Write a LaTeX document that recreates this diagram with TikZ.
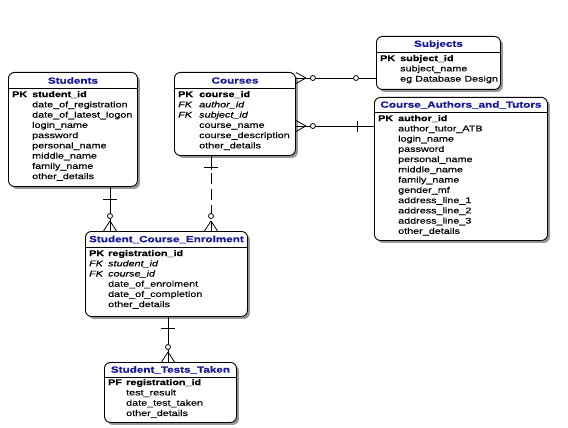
\documentclass[tikz,border=0pt]{standalone}
\usepackage{fontspec}
\newfontfamily\erfont[FakeStretch=1.3, UprightFeatures={FakeBold=0.3}, ItalicFeatures={FakeBold=0.3}, BoldFeatures={FakeBold=0.6}]{Liberation Sans}
\usetikzlibrary{shadows,calc}
\definecolor{ttl}{RGB}{25,25,150}
\definecolor{shd}{RGB}{150,150,150}
\newcommand\fieldrows[4]{%
  \foreach \t [count=\i] in {#4}
    \node[fld] (#1-\i) at (#2, {#3+(\i-1)*10.25}) {\t};}
\begin{document}
\begin{tikzpicture}[x=1pt,y=-1pt,
  tbl/.style={draw, line width=0.9pt, rounded corners=6pt, fill=white,
    drop shadow={shadow xshift=2.5pt, shadow yshift=-2.5pt, fill=shd, opacity=1},
    inner sep=0, anchor=north west},
  sepline/.style={line width=0.9pt},
  ttlnode/.style={font=\erfont\fontsize{9}{10}\selectfont\bfseries, text=ttl, inner sep=0},
  fld/.style={font=\erfont\fontsize{8.3}{10}\selectfont, anchor=west, inner sep=0,
    text height=6pt, text depth=1.8pt},
  conn/.style={line width=0.8pt},
  ring/.style={conn, fill=white},
  dashconn/.style={conn, dash pattern=on 11pt off 5pt}]
\useasboundingbox (0,0) rectangle (568,428);

% ---------- Students ----------
\node[tbl, minimum width=129pt, minimum height=114pt] (stu) at (8,72) {};
\draw[sepline] ($(stu.north west)+(0,16)$) -- ($(stu.north east)+(0,16)$);
\node[ttlnode] (stu-t) at ($(stu.north)+(0,8.5)$) {Students};
\node[fld] (stu-k) at (12,95) {\textbf{PK}};
\fieldrows{stu}{32}{95}{\textbf{student\_id},date\_of\_registration,date\_of\_latest\_logon,login\_name,password,personal\_name,middle\_name,family\_name,other\_details}

% ---------- Courses ----------
\node[tbl, minimum width=121pt, minimum height=83pt] (crs) at (174,72) {};
\draw[sepline] ($(crs.north west)+(0,16)$) -- ($(crs.north east)+(0,16)$);
\node[ttlnode] (crs-t) at ($(crs.north)+(0,8.5)$) {Courses};
\node[fld] (crs-k1) at (178,95) {\textbf{PK}};
\node[fld] (crs-k2) at (178,105.25) {\textit{FK}};
\node[fld] (crs-k3) at (178,115.5) {\textit{FK}};
\fieldrows{crs}{199}{95}{\textbf{course\_id},\textit{author\_id},\textit{subject\_id},course\_name,course\_description,other\_details}

% ---------- Subjects ----------
\node[tbl, minimum width=124pt, minimum height=53pt] (sub) at (376,36) {};
\draw[sepline] ($(sub.north west)+(0,16)$) -- ($(sub.north east)+(0,16)$);
\node[ttlnode] (sub-t) at ($(sub.north)+(0,8.5)$) {Subjects};
\node[fld] (sub-k) at (380,59) {\textbf{PK}};
\fieldrows{sub}{400}{59}{\textbf{subject\_id},subject\_name,eg Database Design}

% ---------- Course_Authors_and_Tutors ----------
\node[tbl, minimum width=173pt, minimum height=143pt] (aut) at (374,97) {};
\draw[sepline] ($(aut.north west)+(0,15.5)$) -- ($(aut.north east)+(0,15.5)$);
\node[ttlnode] (aut-t) at ($(aut.north)+(0,8)$) {Course\_Authors\_and\_Tutors};
\node[fld] (aut-k) at (378,119) {\textbf{PK}};
\fieldrows{aut}{398}{119}{\textbf{author\_id},author\_tutor\_ATB,login\_name,password,personal\_name,middle\_name,family\_name,gender\_mf,address\_line\_1,address\_line\_2,address\_line\_3,other\_details}

% ---------- Student_Course_Enrolment ----------
\node[tbl, minimum width=162pt, minimum height=85pt] (enr) at (85,231) {};
\draw[sepline] ($(enr.north west)+(0,16)$) -- ($(enr.north east)+(0,16)$);
\node[ttlnode] (enr-t) at ($(enr.north)+(0,8.5)$) {Student\_Course\_Enrolment};
\node[fld] (enr-k1) at (89,254) {\textbf{PK}};
\node[fld] (enr-k2) at (89,264.2) {\textit{FK}};
\node[fld] (enr-k3) at (89,274.4) {\textit{FK}};
\foreach \t [count=\i] in {\textbf{registration\_id},\textit{student\_id},\textit{course\_id},date\_of\_enrolment,date\_of\_completion,other\_details}
  \node[fld] (enr-\i) at (108, {254+(\i-1)*10.2}) {\t};

% ---------- Student_Tests_Taken ----------
\node[tbl, minimum width=132pt, minimum height=60pt] (tst) at (104,362) {};
\draw[sepline] ($(tst.north west)+(0,15.5)$) -- ($(tst.north east)+(0,15.5)$);
\node[ttlnode] (tst-t) at ($(tst.north)+(0,8)$) {Student\_Tests\_Taken};
\node[fld] (tst-k) at (108,383) {\textbf{PF}};
\foreach \t [count=\i] in {\textbf{registration\_id},test\_result,date\_test\_taken,other\_details}
  \node[fld] (tst-\i) at (126, {383+(\i-1)*10.3}) {\t};

% ---------- Courses -> Subjects ----------
\coordinate (cs1) at ($(crs.north east)+(0,6)$);
\coordinate (cs2) at ($(sub.north west)+(0,42)$);
\draw[conn] (cs1) -- (cs2);
\draw[conn] ($(cs1)+(0,-5.5)$) -- ($(cs1)+(10,0)$) -- ($(cs1)+(0,5.5)$);
\draw[ring] ($(cs1)+(17,0)$) circle (2.5);
\draw[ring] ($(cs2)+(-20,0)$) circle (2.5);

% ---------- Courses -> Authors ----------
\coordinate (ca1) at ($(crs.north east)+(0,54)$);
\coordinate (ca2) at ($(aut.north west)+(0,29)$);
\draw[conn] (ca1) -- (ca2);
\draw[conn] ($(ca1)+(0,-5.5)$) -- ($(ca1)+(10,0)$) -- ($(ca1)+(0,5.5)$);
\draw[ring] ($(ca1)+(17,0)$) circle (2.5);
\draw[conn] ($(ca2)+(-17,-5.5)$) -- ($(ca2)+(-17,5.5)$);

% ---------- Students -> Enrolment ----------
\coordinate (se1) at ($(stu.south west)+(102,0)$);
\coordinate (se2) at ($(enr.north west)+(25,0)$);
\draw[conn] (se1) -- (se2);
\draw[conn] ($(se1)+(-7,12)$) -- ($(se1)+(7,12)$);
\draw[conn] ($(se2)+(-6.5,0)$) -- ($(se2)+(0,-10)$) -- ($(se2)+(6.5,0)$);
\draw[ring] ($(se2)+(0,-15)$) circle (2.5);

% ---------- Courses -> Enrolment ----------
\coordinate (ce1) at ($(crs.south west)+(37,0)$);
\coordinate (ce2) at ($(enr.north west)+(126,0)$);
\draw[conn] (ce1) -- ($(ce1)+(0,14)$);
\draw[dashconn] ($(ce1)+(0,17)$) -- ($(ce2)+(0,-12)$);
\draw[conn] ($(ce1)+(-7,11)$) -- ($(ce1)+(7,11)$);
\draw[conn] ($(ce2)+(-6.5,0)$) -- ($(ce2)+(0,-10)$) -- ($(ce2)+(6.5,0)$);
\draw[conn] ($(ce2)+(0,-10)$) -- (ce2);
\draw[ring] ($(ce2)+(0,-15)$) circle (2.5);

% ---------- Enrolment -> Tests ----------
\coordinate (et1) at ($(enr.south west)+(83,0)$);
\coordinate (et2) at ($(tst.north west)+(64,0)$);
\draw[conn] (et1) -- (et2);
\draw[conn] ($(et1)+(-7,11)$) -- ($(et1)+(7,11)$);
\draw[conn] ($(et2)+(-6.5,0)$) -- ($(et2)+(0,-10)$) -- ($(et2)+(6.5,0)$);
\draw[ring] ($(et2)+(0,-15)$) circle (2.5);
\end{tikzpicture}
\end{document}
